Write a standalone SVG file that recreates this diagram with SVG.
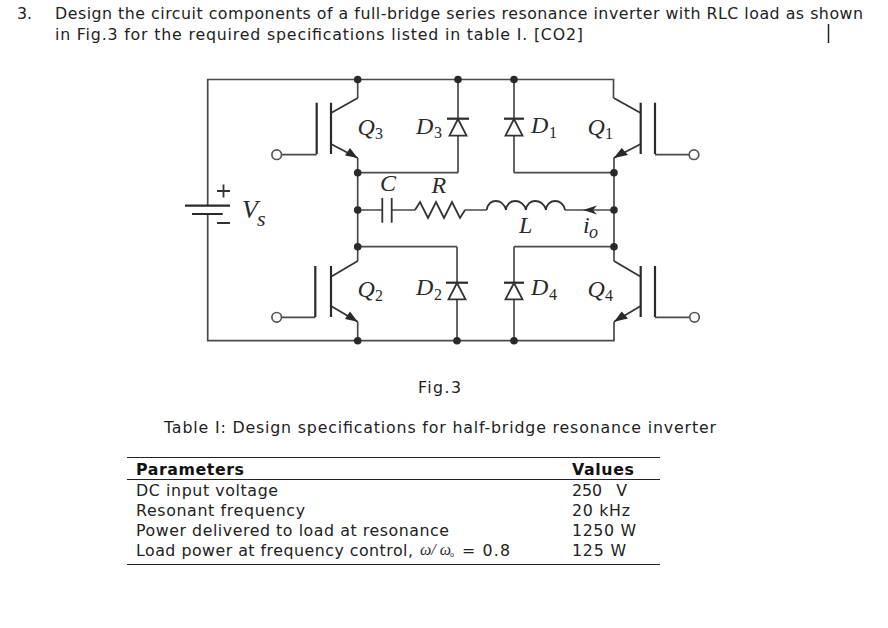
<svg xmlns="http://www.w3.org/2000/svg" width="888" height="628" viewBox="0 0 888 628">
<style>
.t{font-family:"DejaVu Sans",Verdana,sans-serif;font-size:15.8px;fill:#222}
.b{font-weight:bold;fill:#111}
.m{font-family:"Liberation Serif","Times New Roman",serif;font-style:italic;font-size:24px;fill:#2a2a2a}
.s{font-family:"Liberation Serif","Times New Roman",serif;font-size:16px;fill:#2a2a2a}
.w{fill:none;stroke:#4a4a4a;stroke-width:1.7;stroke-linejoin:miter}
.k{fill:none;stroke:#333;stroke-width:1.8}
.h{fill:none;stroke:#2a2a2a;stroke-width:2.2}
.a{fill:#2a2a2a;stroke:none}
.d{fill:#2a2a2a;stroke:none}
.o{fill:#fff;stroke:#555;stroke-width:1.7}
.r{stroke:#222;stroke-width:1;fill:none}
</style>
<rect width="888" height="628" fill="#fff"/>
<g id="question">
<text class="t" x="17" y="19">3.</text>
<text class="t" x="55" y="19" textLength="808">Design the circuit components of a full-bridge series resonance inverter with RLC load as shown</text>
<text class="t" x="55" y="40" textLength="528">in Fig.3 for the required specifications listed in table I. [CO2]</text>
<path d="M828.500 24V43" stroke="#222" stroke-width="1.500" fill="none"/>
</g>
<g id="connectors">
<path class="w" d="M357.700 79.500H207.700V205.700M207.700 214V340.700H357.700M357.700 79.500H613.500V98M357.700 79.500V98M357.700 158V246.700M357.700 246.700V261M357.700 321.700V340.700H614V321.700"/>
<path class="w" d="M357.700 172.700H458M514 172.700H614M614 158V261M357.700 246.700H457M514 246.700H614"/>
<path class="w" d="M458 79.500V118.700M458 135.700V172.700M514 79.500V118.700M514 135.700V172.700M457 246.700V282.700M457 299.300V340.700M514 246.700V282.700M514 299.300V340.700"/>
<path class="w" d="M357.700 210H382.300M391.700 210H415M465 210H486.700M565 210H614"/>
<path class="w" d="M280.700 154.700H316.700M655 154.700H690M281 317.300H315.300M655 317.300H690"/>
<g id="junctions">
<circle class="d" cx="357.700" cy="79.500" r="3.800"/><circle class="d" cx="458" cy="79.500" r="3.800"/><circle class="d" cx="514" cy="79.500" r="3.800"/>
<circle class="d" cx="357.700" cy="172.700" r="3.800"/><circle class="d" cx="614" cy="172.700" r="3.800"/>
<circle class="d" cx="357.700" cy="210" r="3.800"/><circle class="d" cx="614" cy="210" r="3.800"/>
<circle class="d" cx="357.700" cy="246.700" r="3.800"/><circle class="d" cx="614" cy="246.700" r="3.800"/>
<circle class="d" cx="357.700" cy="340.700" r="3.800"/><circle class="d" cx="457" cy="340.700" r="3.800"/><circle class="d" cx="514" cy="340.700" r="3.800"/>
</g>
<path id="io-arrow" class="a" d="M583 210L597 205.500L593 210L597 214.500Z"/>
</g>
<g id="Vs">
<path class="h" d="M185 205.700H230M192 214H222.700"/>
<path class="k" d="M217 191H230M223.500 184.500V197.500M217 223H230"/>
<text class="m" x="242" y="218" style="font-size:26px">V</text>
<text class="m" x="257" y="226" style="font-size:22px">s</text>
</g>
<g id="Q3">
<path class="h" d="M316.700 102.700V154M331 102.700V154"/><path class="k" d="M331 113L357.700 98M331 144L357.700 158"/>
<path class="a" d="M357.700 158L345 155.500L350 148Z"/><circle class="o" cx="276.700" cy="154.700" r="4.800"/>
<text class="m" x="357.500" y="135">Q</text><text class="s" x="375" y="139">3</text>
</g>
<g id="Q1">
<path class="h" d="M655 102.700V154M640.700 102.700V154"/><path class="k" d="M640.700 113L613.700 98M640.700 144L613.700 158"/>
<path class="a" d="M613.700 158L628 155L621.700 148Z"/><circle class="o" cx="694" cy="154.700" r="4.800"/>
<text class="m" x="587.500" y="135">Q</text><text class="s" x="605" y="139">1</text>
</g>
<g id="Q2">
<path class="h" d="M315.300 266V317M331 266V317"/><path class="k" d="M331 276.700L357.700 261M331 306L357.700 321.700"/>
<path class="a" d="M357.700 321.700L345 319L350 311.500Z"/><circle class="o" cx="276.700" cy="317.300" r="4.800"/>
<text class="m" x="357.500" y="297">Q</text><text class="s" x="375" y="301">2</text>
</g>
<g id="Q4">
<path class="h" d="M655 266V317M640.700 266V317"/><path class="k" d="M640.700 276.700L614 261M640.700 306L614 321.700"/>
<path class="a" d="M614 321.700L628 318.500L621.700 311.500Z"/><circle class="o" cx="694.500" cy="317.300" r="4.800"/>
<text class="m" x="587.500" y="297">Q</text><text class="s" x="605" y="301">4</text>
</g>
<g id="D3">
<path class="h" d="M447 118.700H469"/><path class="k" d="M458 119L449.500 135.700H466.500Z"/>
<text class="m" x="416" y="134">D</text><text class="s" x="434" y="138">3</text>
</g>
<g id="D1">
<path class="h" d="M504 118.700H524"/><path class="k" d="M514 119L505.500 135.700H522.500Z"/>
<text class="m" x="531" y="133">D</text><text class="s" x="549" y="138">1</text>
</g>
<g id="D2">
<path class="h" d="M446 282.700H468"/><path class="k" d="M457 283L448.500 299.300H465.500Z"/>
<text class="m" x="416" y="295">D</text><text class="s" x="434" y="300">2</text>
</g>
<g id="D4">
<path class="h" d="M504 282.700H524"/><path class="k" d="M514 283L505.500 299.300H522.500Z"/>
<text class="m" x="531" y="295">D</text><text class="s" x="549" y="300">4</text>
</g>
<g id="C">
<path class="k" d="M382.300 198V222.700M391.700 198V222.700"/>
<text class="m" x="380" y="191">C</text>
</g>
<g id="R">
<path class="k" d="M415 210L420 202L428 218L436 202L444 218L452 202L460 218L465 210"/>
<text class="m" x="431.500" y="193">R</text>
</g>
<g id="L">
<path class="k" d="M486.700 210C488 198 503 198 506 210C507 198 523 198 526 210C527 198 543 198 546 210C547 198 563 198 565 210"/>
<text class="m" x="519" y="233">L</text>
</g>
<g id="io">
<text class="m" x="583" y="233">i</text><text class="m" x="589" y="238" style="font-size:18px">o</text>
</g>
<text class="t" x="418" y="393" textLength="43">Fig.3</text>
<text class="t" x="164" y="433" textLength="552">Table I: Design specifications for half-bridge resonance inverter</text>
<g id="table">
<path class="r" d="M127 457.500H660M127 479.500H660M127 564.500H660"/>
<text class="t b" x="136" y="475" textLength="108">Parameters</text>
<text class="t b" x="572" y="475" textLength="62">Values</text>
<text class="t" x="136" y="496" textLength="142">DC input voltage</text>
<text class="t" x="136" y="516" textLength="169">Resonant frequency</text>
<text class="t" x="136" y="536" textLength="313">Power delivered to load at resonance</text>
<text class="t" x="136" y="556" textLength="277">Load power at frequency control,</text>
<text class="s" x="420" y="555" style="font-size:16px;font-style:italic">ω/ ω</text><text class="s" x="450" y="557" style="font-size:8px">o</text>
<text class="t" x="462" y="556" textLength="48">= 0.8</text>
<text class="t" x="572" y="496" style="word-spacing:9px">250 V</text>
<text class="t" x="572" y="516" textLength="58">20 kHz</text>
<text class="t" x="572" y="536" textLength="64">1250 W</text>
<text class="t" x="572" y="556" textLength="54">125 W</text>
</g>
</svg>
